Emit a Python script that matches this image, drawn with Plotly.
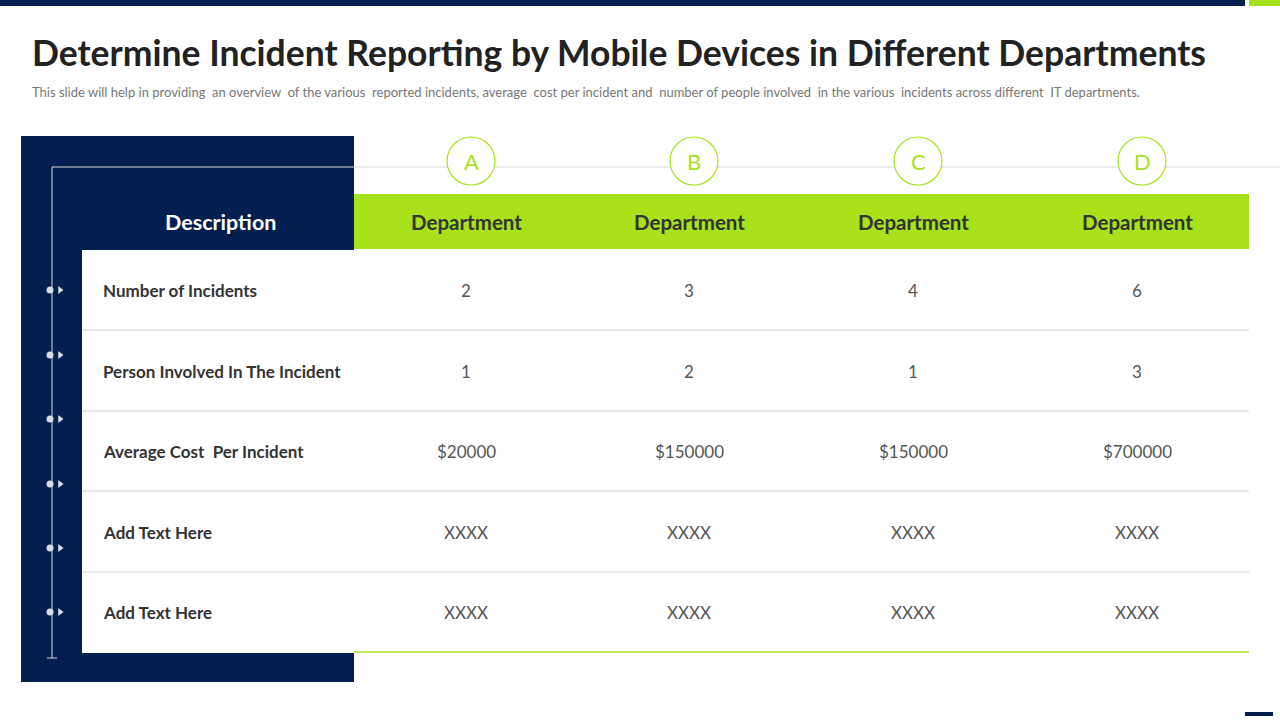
import plotly.graph_objects as go

# table content
letters = ["A", "B", "C", "D"]
col_header = "Department"
row_labels = ["Number of Incidents", "Person Involved In The Incident",
              "Average Cost  Per Incident", "Add Text Here", "Add Text Here"]
values = [
    ["2", "3", "4", "6"],
    ["1", "2", "1", "3"],
    ["$20000", "$150000", "$150000", "$700000"],
    ["XXXX", "XXXX", "XXXX", "XXXX"],
    ["XXXX", "XXXX", "XXXX", "XXXX"],
]
title = "Determine Incident Reporting by Mobile Devices in Different Departments"
subtitle = ("This slide will help in providing  an overview  of the various  reported incidents, average  cost per incident and  "
            "number of people involved  in the various  incidents across different  IT departments.")

NAVY = "#021f4f"
GREEN = "#a9e11b"
FONT = "Lato"

col_x = [466, 689, 913, 1137]
row_y = [290, 371, 451, 532, 612]
bullet_y = [290, 355, 419, 484, 548, 612]

fig = go.Figure()
shapes = []
ann = []

def rect(x0, y0, x1, y1, color):
    shapes.append(dict(type="rect", x0=x0, y0=y0, x1=x1, y1=y1, fillcolor=color,
                       line=dict(width=0), layer="below"))

def line(x0, y0, x1, y1, color, w=1):
    shapes.append(dict(type="line", x0=x0, y0=y0, x1=x1, y1=y1, line=dict(color=color, width=w)))

# top strip
rect(0, 0, 1245, 6, NAVY)
rect(1249, 0, 1280, 6, GREEN)
rect(1245, 712, 1273, 716, NAVY)

# navy panel and white inset
rect(21, 136, 354, 682, NAVY)
rect(82, 250, 354, 653, "white")
rect(354, 194, 1249, 249, GREEN)

line(52, 167, 1280, 167, "#d9d9d9")
line(52, 167, 52, 658, "#d9d9d9")
line(47, 658, 57, 658, "#d9d9d9")

for y in row_y[:-1]:
    line(82, y + 40, 1249, y + 40, "#d0d0d0")
line(354, 652, 1249, 652, GREEN, 1.5)

for cx, L in zip(col_x, letters):
    shapes.append(dict(type="circle", x0=cx + 5 - 24, x1=cx + 5 + 24, y0=161 - 24, y1=161 + 24,
                       fillcolor="white", line=dict(color=GREEN, width=1.2)))
    ann.append(dict(x=cx + 5, y=161, text=L, font=dict(size=22, color=GREEN, family=FONT)))
    ann.append(dict(x=cx, y=222, text="<b>" + col_header + "</b>", font=dict(size=20.5, color="#333333", family=FONT)))

fig.add_trace(go.Scatter(x=[50] * len(bullet_y), y=bullet_y, mode="markers",
                         marker=dict(size=7, color="#d9dde6"), hoverinfo="skip"))
fig.add_trace(go.Scatter(x=[60] * len(bullet_y), y=bullet_y, mode="markers",
                         marker=dict(size=7, color="#d9dde6", symbol="triangle-right"), hoverinfo="skip"))

ann.append(dict(x=220, y=222, text="<b>Description</b>", font=dict(size=21.5, color="white", family=FONT)))
for y, lab, vals in zip(row_y, row_labels, values):
    ann.append(dict(x=101, y=y, text="<b>" + lab + "</b>", xanchor="left",
                    font=dict(size=17, color="#333333", family=FONT)))
    for cx, v in zip(col_x, vals):
        ann.append(dict(x=cx, y=y, text=v, font=dict(size=17, color="#555555", family=FONT)))

ann.append(dict(x=30, y=52, text="<b>" + title + "</b>", xanchor="left",
                font=dict(size=35.5, color="#222222", family=FONT)))
ann.append(dict(x=30, y=92, text=subtitle, xanchor="left",
                font=dict(size=13, color="#777777", family=FONT)))

for a in ann:
    a.update(xref="x", yref="y", showarrow=False)

fig.update_layout(
    width=1280, height=720, margin=dict(l=0, r=0, t=0, b=0),
    plot_bgcolor="white", paper_bgcolor="white", showlegend=False,
    shapes=shapes, annotations=ann,
    xaxis=dict(range=[0, 1280], visible=False, fixedrange=True),
    yaxis=dict(range=[720, 0], visible=False, fixedrange=True),
)
# drop the default body margin so the figure sits at the page corner
fig.write_html("out.html", config={"displayModeBar": False},
               post_script="document.body.style.margin='0';document.body.style.overflow='hidden';")
